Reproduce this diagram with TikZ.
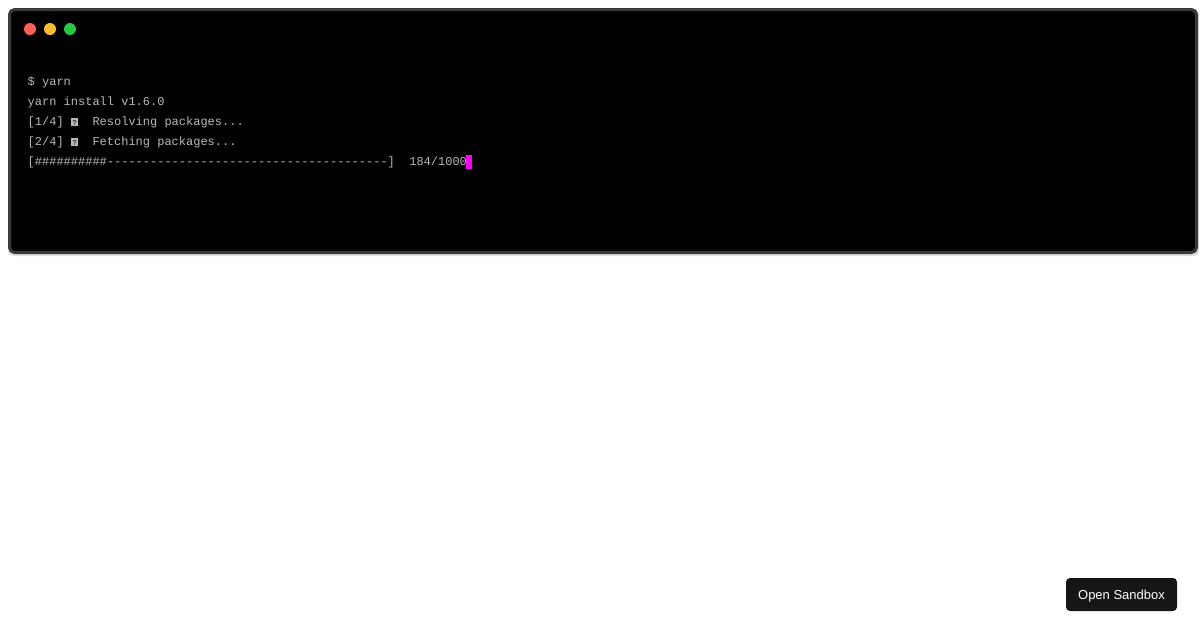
\documentclass[tikz,border=0pt]{standalone}
\usepackage{fontspec}
\setmainfont{Liberation Sans}
\setmonofont{Liberation Mono}
\newfontfamily\btnfont{Liberation Sans}
\definecolor{termfg}{HTML}{B8B8B8}
\definecolor{termborder}{HTML}{3A3A3A}
\definecolor{dotred}{HTML}{FF5F56}
\definecolor{dotyellow}{HTML}{FFBD2E}
\definecolor{dotgreen}{HTML}{27C93F}
\definecolor{btnfill}{HTML}{161616}
\definecolor{cursorpink}{HTML}{FF00FF}
\newcommand{\qglyph}{\makebox[7.2pt][c]{\setlength{\fboxsep}{0.7pt}\colorbox{termfg}{\makebox[5.2pt][c]{\rule{0pt}{6.6pt}\color{black}\fontsize{7.5}{7.5}\selectfont ?}}}}
\tikzset{
  termline/.style={anchor=base west, inner sep=0pt, text=termfg, font=\ttfamily\fontsize{12}{12}\selectfont},
  winbtn/.style={circle, inner sep=0pt, minimum size=12pt},
}
\begin{document}
\begin{tikzpicture}[x=1pt,y=-1pt]
\useasboundingbox (0,0) rectangle (1200,630);
\fill[white] (0,0) rectangle (1200,630);
% shadow
\fill[black!12, rounded corners=5pt] (8,9) rectangle (1199,256);
% terminal
\draw[termborder, line width=3pt, fill=black, rounded corners=5pt] (9.5,9.5) rectangle (1196.5,252.5);
\node[winbtn, fill=dotred] (dr) at (30,29) {};
\node[winbtn, fill=dotyellow] (dy) at (50,29) {};
\node[winbtn, fill=dotgreen] (dg) at (70,29) {};
% lines
\node[termline] (l1) at (27.5,85) {\$ yarn};
\node[termline] (l2) at (27.5,105) {yarn install v1.6.0};
\node[termline] (l3) at (27.5,125) {[1/4] \qglyph{}~~Resolving packages...};
\node[termline] (l4) at (27.5,145) {[2/4] \qglyph{}~~Fetching packages...};
\node[termline] (l5) at (27.5,165) {[\#\#\#\#\#\#\#\#\#\#---------------------------------------]~~184/1000};
\fill[cursorpink] (466,155) rectangle (472,169);
% button
\node[fill=btnfill, rounded corners=4pt, minimum width=111pt, minimum height=33pt, inner sep=0pt] (btn) at (1121.5,594.5) {};
\node[anchor=base, inner sep=0pt, text=white, font=\btnfont\fontsize{13}{13}\selectfont] (btntext) at (1121.5,599) {Open Sandbox};
\end{tikzpicture}
\end{document}
